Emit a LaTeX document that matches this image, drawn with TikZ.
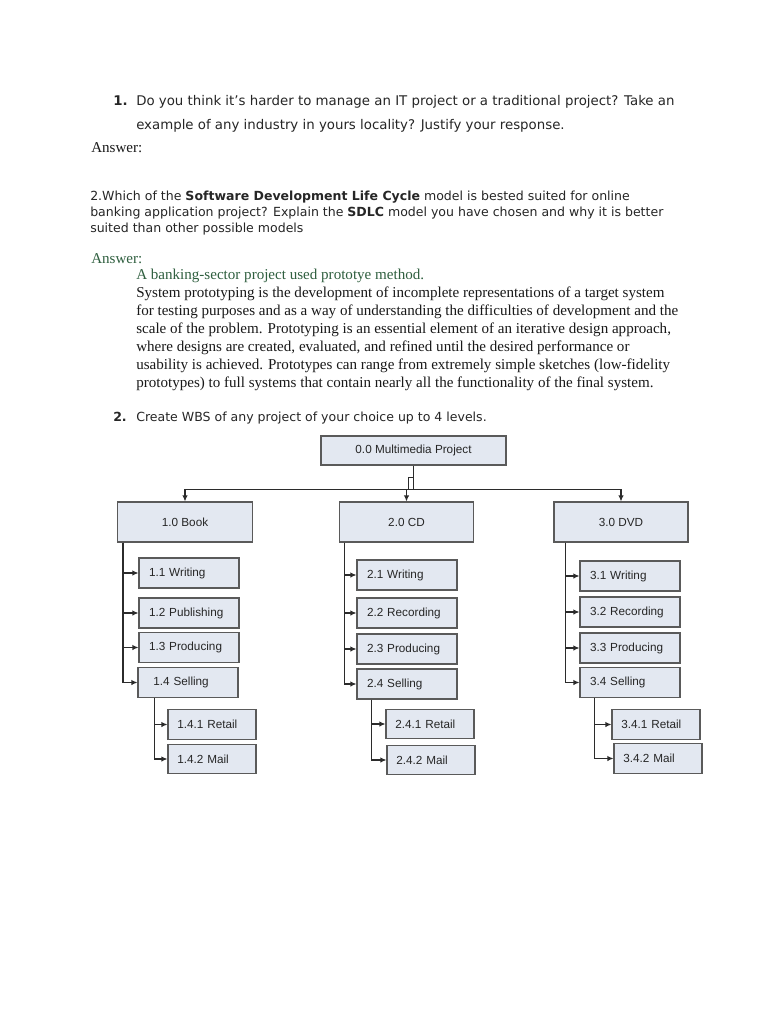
\documentclass[tikz,border=0pt]{standalone}
\usepackage{fontspec}
\setmainfont{Liberation Serif}
\newfontfamily\qfont{DejaVu Sans}
\newfontfamily\boxfont{Liberation Sans}
\usepackage{xcolor}
\usetikzlibrary{arrows.meta,calc}
\definecolor{ansgreen}{HTML}{2F5F3F}
\definecolor{boxfill}{HTML}{E3E8F1}
\definecolor{boxline}{HTML}{5A5A5A}
\definecolor{linkgray}{HTML}{2B2B2B}
\tikzset{
  qline/.style={anchor=base west, inner sep=0pt, text=black!85,
    font={\qfont\fontsize{10}{12}\selectfont}},
  q2line/.style={qline, font={\qfont\fontsize{9.4}{11}\selectfont}},
  rmline/.style={anchor=base west, inner sep=0pt, text=black!90,
    font={\fontsize{11.3}{13}\selectfont}},
  topbox/.style={draw=boxline, fill=boxfill, line width=0.8pt, inner sep=0pt,
    text=black!85, font={\boxfont\fontsize{8.8}{10}\selectfont}},
  subbox/.style={topbox, minimum height=22.5pt, text width=60pt, inner xsep=7.5pt,
    align=left},
  leafbox/.style={topbox, minimum height=22pt, text width=52pt, inner xsep=7pt,
    align=left},
  link/.style={draw=linkgray, line width=0.8pt, -{Latex[length=4.5pt,width=4pt]}}
}

\begin{document}
\begin{tikzpicture}[x=0.75pt, y=-0.75pt]
\useasboundingbox (0,0) rectangle (768,1024);
\fill[white] (0,0) rectangle (768,1024);

% question 1
\node[qline] (q1num) at (113,105) {\textbf{1.}};
\node[qline] (q1a) at (136,105) {Do you think it’s harder to manage an IT project or a traditional project? Take an};
\node[qline] (q1b) at (136,129) {example of any industry in yours locality? Justify your response.};
\node[rmline] (ans1) at (91,152) {Answer:};

% question 2
\node[q2line] (q2a) at (90,200) {2.Which of the \textbf{Software Development Life Cycle} model is bested suited for online};
\node[q2line] (q2b) at (90,216) {banking application project? Explain the \textbf{SDLC} model you have chosen and why it is better};
\node[q2line] (q2c) at (90,232) {suited than other possible models};
\node[rmline, text=ansgreen] (ans2) at (91,263) {Answer:};
\node[rmline, text=ansgreen] (ans2a) at (136,279) {A banking-sector project used prototye method.};
\node[rmline] (p1) at (136,297.5) {System prototyping is the development of incomplete representations of a target system};
\node[rmline] (p2) at (136,315.5) {for testing purposes and as a way of understanding the difficulties of development and the};
\node[rmline] (p3) at (136,333) {scale of the problem. Prototyping is an essential element of an iterative design approach,};
\node[rmline] (p4) at (136,351) {where designs are created, evaluated, and refined until the desired performance or};
\node[rmline] (p5) at (136,369) {usability is achieved. Prototypes can range from extremely simple sketches (low-fidelity};
\node[rmline] (p6) at (136,387) {prototypes) to full systems that contain nearly all the functionality of the final system.};

% question 3
\node[q2line] (q3num) at (113,421) {\textbf{2.}};
\node[q2line] (q3a) at (136,421) {Create WBS of any project of your choice up to 4 levels.};

% WBS
\node[topbox, minimum width=138.75pt, minimum height=21.75pt] (root) at (413.5,450.5) {0.0 Multimedia Project};

\node[topbox, minimum width=101.25pt, minimum height=30pt] (book) at (185,522) {1.0 Book};
\node[topbox, minimum width=100pt, minimum height=30pt] (cd) at (406.5,522) {2.0 CD};
\node[topbox, minimum width=100.5pt, minimum height=30pt] (dvd) at (621,522) {3.0 DVD};

\node[subbox] (b11) at (189,573) {1.1 Writing};
\node[subbox] (b12) at (189,613) {1.2 Publishing};
\node[subbox] (b13) at (189,647.5) {1.3 Producing};
\node[subbox] (b14) at (188,682.5) {\hspace{4pt}1.4 Selling};
\node[leafbox] (b141) at (212,724.5) {1.4.1 Retail};
\node[leafbox] (b142) at (212,759) {1.4.2 Mail};

\node[subbox] (c21) at (407,575) {2.1 Writing};
\node[subbox] (c22) at (407,613) {2.2 Recording};
\node[subbox] (c23) at (407,649) {2.3 Producing};
\node[subbox] (c24) at (407,684) {2.4 Selling};
\node[leafbox] (c241) at (430,724) {2.4.1 Retail};
\node[leafbox] (c242) at (431,760) {2.4.2 Mail};

\node[subbox] (d31) at (630,576) {3.1 Writing};
\node[subbox] (d32) at (630,612) {3.2 Recording};
\node[subbox] (d33) at (630,648) {3.3 Producing};
\node[subbox] (d34) at (630,682.5) {3.4 Selling};
\node[leafbox] (d341) at (656,724.5) {3.4.1 Retail};
\node[leafbox] (d342) at (658,758.5) {3.4.2 Mail};

% root to first level
\draw[draw=linkgray, line width=0.8pt] (root.south) -- ++(0,24);
\draw[draw=linkgray, line width=0.8pt] ($(root.south)+(0,12)$) -- ++(-5,0) -- ++(0,12);
\draw[link] ($(root.south)+(0,24)$) -| (book.north);
\draw[link] ($(root.south)+(0,24)$) -| (cd.north);
\draw[link] ($(root.south)+(0,24)$) -| (dvd.north);

% second level
\foreach \c in {b11,b12,b13,b14}
  \draw[link] ($(book.south west)+(6,0)$) |- (\c.west);
\foreach \c in {c21,c22,c23,c24}
  \draw[link] ($(cd.south west)+(5,0)$) |- (\c.west);
\foreach \c in {d31,d32,d33,d34}
  \draw[link] ($(dvd.south west)+(12,0)$) |- (\c.west);

% third level
\foreach \c in {b141,b142}
  \draw[link] ($(b14.south west)+(17,0)$) |- (\c.west);
\foreach \c in {c241,c242}
  \draw[link] ($(c24.south west)+(15,0)$) |- (\c.west);
\foreach \c in {d341,d342}
  \draw[link] ($(d34.south west)+(15,0)$) |- (\c.west);

\end{tikzpicture}
\end{document}
